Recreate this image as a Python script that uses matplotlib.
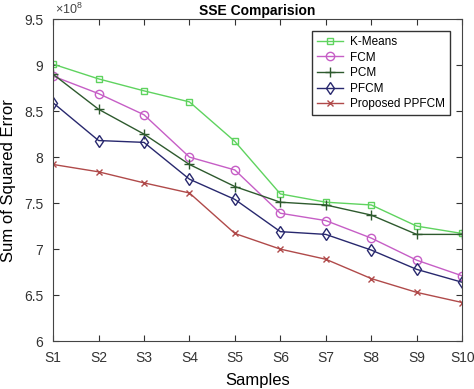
import numpy as np
import matplotlib
matplotlib.use("Agg")
import matplotlib.pyplot as plt
from matplotlib.ticker import FuncFormatter

plt.rcParams['font.family'] = ['Liberation Sans', 'DejaVu Sans']
plt.rcParams['mathtext.fontset'] = 'custom'
plt.rcParams['mathtext.rm'] = 'Liberation Sans'

samples = ['S1', 'S2', 'S3', 'S4', 'S5', 'S6', 'S7', 'S8', 'S9', 'S10']
# SSE values (x 1e8)
kmeans = [9.01, 8.85, 8.72, 8.60, 8.17, 7.60, 7.51, 7.48, 7.25, 7.17]
fcm = [8.88, 8.69, 8.46, 8.00, 7.86, 7.39, 7.31, 7.12, 6.88, 6.71]
pcm = [8.90, 8.52, 8.25, 7.92, 7.68, 7.51, 7.48, 7.37, 7.16, 7.16]
pfcm = [8.59, 8.18, 8.16, 7.76, 7.54, 7.19, 7.16, 6.99, 6.78, 6.64]
ppfcm = [7.92, 7.84, 7.72, 7.61, 7.17, 7.00, 6.89, 6.68, 6.53, 6.42]

x = np.arange(1, len(samples) + 1)

fig = plt.figure(figsize=(4.74, 3.89), dpi=100)
ax = fig.add_axes([0.112, 0.123, 0.863, 0.828])

ax.plot(x, kmeans, '-s', color='#5fd35f', lw=1, ms=5, mfc='none', label='K-Means')
ax.plot(x, fcm, '-o', color='#c65ec6', lw=1, ms=6, mfc='none', label='FCM')
ax.plot(x, pcm, '-+', color='#2e5a2e', lw=1, ms=7, label='PCM')
ax.plot(x, pfcm, '-d', color='#28286e', lw=1, ms=6, mfc='none', label='PFCM')
ax.plot(x, ppfcm, '-x', color='#b04a4a', lw=1, ms=5, label='Proposed PPFCM')

ax.set_xlim(1, 10)
ax.set_ylim(6, 9.5)
ax.set_xticks(x)
ax.set_xticklabels(samples)
ax.set_yticks(np.arange(6, 9.51, 0.5))
ax.yaxis.set_major_formatter(FuncFormatter(lambda v, p: '%g' % v))
ax.tick_params(direction='in', top=True, right=True, labelsize=10,
               colors='#333333', pad=7, length=4)
for s in ax.spines.values():
    s.set_color('#444444')

ax.text(0.005, 1.005, r'$\times10^{8}$', transform=ax.transAxes, fontsize=9,
        color='#444444', va='bottom', ha='left')

ax.set_title('SSE Comparision', fontsize=10, fontweight='bold', pad=3)
ax.set_xlabel('Samples', fontsize=12, labelpad=6)
ax.set_ylabel('Sum of Squared Error', fontsize=12, labelpad=6)

leg = ax.legend(loc='upper right', bbox_to_anchor=(0.97, 0.962), fontsize=8.5,
                fancybox=False, edgecolor='#333333', handlelength=2.2,
                handletextpad=0.6, borderpad=0.4, labelspacing=0.3,
                framealpha=1, borderaxespad=0)
leg.get_frame().set_linewidth(1)

fig.savefig('out.png', dpi=100)
